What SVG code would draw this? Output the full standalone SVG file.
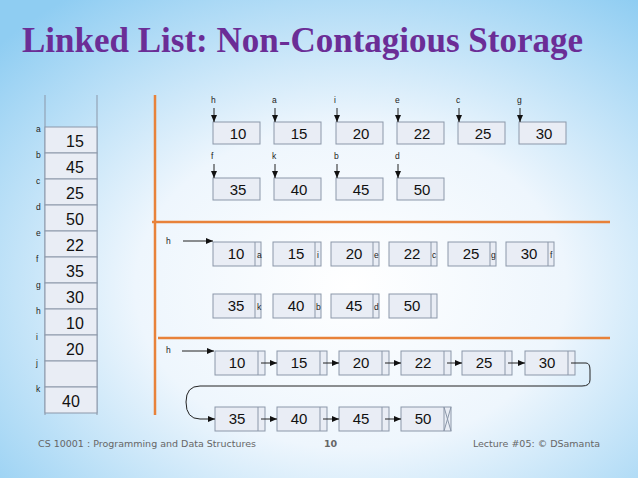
<svg xmlns="http://www.w3.org/2000/svg" width="638" height="478" viewBox="0 0 638 478">
<defs>
<radialGradient id="bg" cx="0.55" cy="0.6" r="0.75">
<stop offset="0" stop-color="#ffffff"/><stop offset="0.45" stop-color="#eef6fd"/><stop offset="1" stop-color="#8fcdf2"/>
</radialGradient>
<marker id="ah" markerWidth="8" markerHeight="8" refX="7" refY="4" orient="auto" markerUnits="userSpaceOnUse"><path d="M0,1 L7,4 L0,7 Z" fill="#111"/></marker>
</defs>
<style>
.b{fill:#e9edf5;stroke:#8b97a9;stroke-width:1}
.t{font-family:"Liberation Sans",Arial,sans-serif;font-size:15px;fill:#111;text-anchor:middle}
.s{font-family:"Liberation Sans",Arial,sans-serif;font-size:8.5px;fill:#222}
.c{stroke:#222;stroke-width:1;fill:none}
.o{stroke:#e8823a;stroke-width:2.5}
.f{font-family:"DejaVu Sans",sans-serif;font-size:9.5px;fill:#666}
</style>
<rect width="638" height="478" fill="url(#bg)"/>
<text x="22" y="52" font-family="Liberation Serif,serif" font-weight="bold" font-size="35" fill="#6b2d96">Linked List: Non-Contagious Storage</text>
<g class="o"><line x1="155" y1="95" x2="155" y2="415"/><line x1="152" y1="222" x2="610" y2="222"/><line x1="158" y1="338" x2="610" y2="338"/></g>
<g id="memory">
<line x1="45" y1="95" x2="45" y2="415" stroke="#8b97a9"/><line x1="97" y1="95" x2="97" y2="415" stroke="#8b97a9"/>
<g class="b"><rect x="45" y="127" width="52" height="26"/><rect x="45" y="153" width="52" height="26"/><rect x="45" y="179" width="52" height="26"/><rect x="45" y="205" width="52" height="26"/><rect x="45" y="231" width="52" height="26"/><rect x="45" y="257" width="52" height="26"/><rect x="45" y="283" width="52" height="26"/><rect x="45" y="309" width="52" height="26"/><rect x="45" y="335" width="52" height="26"/><rect x="45" y="361" width="52" height="26"/><rect x="45" y="387" width="52" height="26"/></g>
<g class="t" style="font-size:16px"><text x="75" y="147">15</text><text x="75" y="173">45</text><text x="75" y="199">25</text><text x="75" y="225">50</text><text x="75" y="251">22</text><text x="75" y="277">35</text><text x="75" y="303">30</text><text x="75" y="329">10</text><text x="75" y="355">20</text><text x="71" y="407">40</text></g>
<g class="s"><text x="36" y="132">a</text><text x="36" y="158">b</text><text x="36" y="184">c</text><text x="36" y="210">d</text><text x="36" y="236">e</text><text x="36" y="262">f</text><text x="36" y="288">g</text><text x="36" y="314">h</text><text x="36" y="340">i</text><text x="36" y="366">j</text><text x="36" y="392">k</text></g>
</g>
<g id="sec1">
<g class="b"><rect x="213" y="122" width="47" height="22"/><rect x="274" y="122" width="47" height="22"/><rect x="336" y="122" width="47" height="22"/><rect x="397" y="122" width="47" height="22"/><rect x="458" y="122" width="47" height="22"/><rect x="519" y="122" width="47" height="22"/>
<rect x="213" y="178" width="47" height="22"/><rect x="274" y="178" width="47" height="22"/><rect x="336" y="178" width="47" height="22"/><rect x="397" y="178" width="47" height="22"/></g>
<g class="t"><text x="238" y="139">10</text><text x="299" y="139">15</text><text x="361" y="139">20</text><text x="422" y="139">22</text><text x="483" y="139">25</text><text x="544" y="139">30</text><text x="238" y="195">35</text><text x="299" y="195">40</text><text x="361" y="195">45</text><text x="422" y="195">50</text></g>
<g class="s"><text x="211" y="103">h</text><text x="272" y="103">a</text><text x="334" y="103">i</text><text x="395" y="103">e</text><text x="456" y="103">c</text><text x="517" y="103">g</text><text x="211" y="159">f</text><text x="272" y="159">k</text><text x="334" y="159">b</text><text x="395" y="159">d</text></g>
</g>
<g id="sec2">
<g class="b"><rect x="213" y="242" width="48" height="24"/><rect x="273" y="242" width="48" height="24"/><rect x="331" y="242" width="48" height="24"/><rect x="389" y="242" width="48" height="24"/><rect x="448" y="242" width="48" height="24"/><rect x="506" y="242" width="48" height="24"/>
<rect x="213" y="294" width="48" height="24"/><rect x="273" y="294" width="48" height="24"/><rect x="331" y="294" width="48" height="24"/><rect x="389" y="294" width="48" height="24"/></g>
<g stroke="#8b97a9"><line x1="255" y1="242" x2="255" y2="266"/><line x1="315" y1="242" x2="315" y2="266"/><line x1="373" y1="242" x2="373" y2="266"/><line x1="431" y1="242" x2="431" y2="266"/><line x1="490" y1="242" x2="490" y2="266"/><line x1="548" y1="242" x2="548" y2="266"/><line x1="255" y1="294" x2="255" y2="318"/><line x1="315" y1="294" x2="315" y2="318"/><line x1="373" y1="294" x2="373" y2="318"/><line x1="431" y1="294" x2="431" y2="318"/></g>
<g class="t"><text x="236" y="259">10</text><text x="296" y="259">15</text><text x="354" y="259">20</text><text x="412" y="259">22</text><text x="471" y="259">25</text><text x="529" y="259">30</text><text x="236" y="311">35</text><text x="296" y="311">40</text><text x="354" y="311">45</text><text x="412" y="311">50</text></g>
<g class="s"><text x="257" y="258">a</text><text x="317" y="258">i</text><text x="374" y="258">e</text><text x="432" y="258">c</text><text x="491" y="258">g</text><text x="550" y="258">f</text><text x="257" y="310">k</text><text x="316" y="310">b</text><text x="374" y="310">d</text><text x="166" y="244">h</text></g>
</g>
<g id="sec3">
<g class="b"><rect x="215" y="351" width="50" height="24"/><rect x="277" y="351" width="50" height="24"/><rect x="339" y="351" width="50" height="24"/><rect x="401" y="351" width="50" height="24"/><rect x="462" y="351" width="50" height="24"/><rect x="525" y="351" width="50" height="24"/>
<rect x="215" y="407" width="50" height="24"/><rect x="277" y="407" width="50" height="24"/><rect x="339" y="407" width="50" height="24"/><rect x="401" y="407" width="50" height="24"/></g>
<g stroke="#8b97a9"><line x1="258" y1="351" x2="258" y2="375"/><line x1="320" y1="351" x2="320" y2="375"/><line x1="382" y1="351" x2="382" y2="375"/><line x1="444" y1="351" x2="444" y2="375"/><line x1="505" y1="351" x2="505" y2="375"/><line x1="568" y1="351" x2="568" y2="375"/><line x1="258" y1="407" x2="258" y2="431"/><line x1="320" y1="407" x2="320" y2="431"/><line x1="382" y1="407" x2="382" y2="431"/><line x1="444" y1="407" x2="444" y2="431"/><path d="M444,407 L451,431 M451,407 L444,431"/></g>
<g class="t"><text x="237" y="368">10</text><text x="299" y="368">15</text><text x="361" y="368">20</text><text x="423" y="368">22</text><text x="484" y="368">25</text><text x="547" y="368">30</text><text x="237" y="424">35</text><text x="299" y="424">40</text><text x="361" y="424">45</text><text x="423" y="424">50</text></g>
<text class="s" x="166" y="353">h</text>
</g>
<g id="connectors" class="c" marker-end="url(#ah)">
<path d="M214,108 V122"/><path d="M275,108 V122"/><path d="M337,108 V122"/><path d="M398,108 V122"/><path d="M459,108 V122"/><path d="M520,108 V122"/>
<path d="M214,164 V178"/><path d="M275,164 V178"/><path d="M337,164 V178"/><path d="M398,164 V178"/>
<path d="M183,241 H213"/>
<path d="M182,351 H214"/>
<path d="M261,363 H277"/><path d="M323,363 H339"/><path d="M385,363 H401"/><path d="M447,363 H462"/><path d="M508,363 H525"/>
<path d="M571,363 H586 Q590,363 590,370 V380 Q590,386 582,386 H200 Q186,386 186,402 Q186,419 200,419 H215"/>
<path d="M261,419 H277"/><path d="M323,419 H339"/><path d="M385,419 H401"/>
</g>
<text class="f" x="38" y="447">CS 10001 : Programming and Data Structures</text>
<text class="f" x="324" y="447" font-weight="bold" fill="#555">10</text>
<text class="f" x="600" y="447" text-anchor="end">Lecture #05: © DSamanta</text>
</svg>
